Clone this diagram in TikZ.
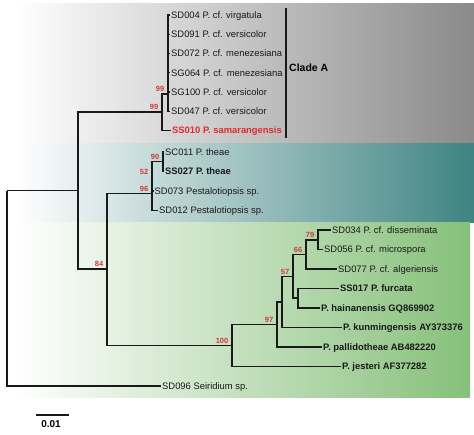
\documentclass[tikz,border=0pt]{standalone}
\usepackage{fontspec}
\setmainfont{Liberation Sans}
\definecolor{bandgray}{HTML}{8A8A8A}
\definecolor{bandteal}{HTML}{3E8482}
\definecolor{bandgreen}{HTML}{86C07A}
\definecolor{bsred}{HTML}{D03A3A}
\definecolor{ssred}{HTML}{E42A30}
\begin{document}
\begin{tikzpicture}[x=1pt,y=-1pt,
  br/.style={line width=1.1pt, black!90},
  leaf/.style={anchor=west, inner sep=1pt, font=\fontsize{9.4}{10}\selectfont, text height=6.7pt, text depth=0pt, text=black!90},
  leafb/.style={leaf, font=\fontsize{9.4}{10}\selectfont\bfseries},
  bs/.style={anchor=south east, inner sep=0pt, xshift=-3.5pt, yshift=2pt, font=\fontsize{7.5}{8}\selectfont\bfseries, text=bsred},
]
\useasboundingbox (0,0) rectangle (474,434);
% background bands
\shade[left color=white, right color=bandgray] (15,3) rectangle (474,143);
\shade[left color=white, right color=bandteal] (15,143) rectangle (474,222);
\shade[left color=white, right color=bandgreen] (15,222) rectangle (470,397);

% internal nodes
\coordinate (root) at (7,190.5);
\coordinate (n78) at (78,190.5);
\coordinate (n162) at (162,112);
\coordinate (n168) at (168,94);
\coordinate (n84) at (107,269);
\coordinate (n96) at (152,193.5);
\coordinate (n52) at (152,176.4);
\coordinate (n90) at (163,161.75);
\coordinate (n100) at (232,345.5);
\coordinate (n97) at (277,324.5);
\coordinate (n282) at (282,302);
\coordinate (n57) at (293,276.5);
\coordinate (nss) at (298,298);
\coordinate (n66) at (306,254.5);
\coordinate (n79) at (318,240);

% leaves
\node[leaf] (sd004) at (170,15) {SD004 P. cf. virgatula};
\node[leaf] (sd091) at (170,34.3) {SD091 P. cf. versicolor};
\node[leaf] (sd072) at (170,53.5) {SD072 P. cf. menezesiana};
\node[leaf] (sg064) at (170,72.8) {SG064 P. cf. menezesiana};
\node[leaf] (sg100) at (170,92) {SG100 P. cf. versicolor};
\node[leaf] (sd047) at (170,111.2) {SD047 P. cf. versicolor};
\node[leafb, text=ssred] (ss010) at (171,130.5) {SS010 P. samarangensis};
\node[leaf] (sc011) at (164,152) {SC011 P. theae};
\node[leafb] (ss027) at (164,171.5) {SS027 P. theae};
\node[leaf] (sd073) at (153.5,191) {SD073 Pestalotiopsis sp.};
\node[leaf] (sd012) at (158,210.5) {SD012 Pestalotiopsis sp.};
\node[leaf] (sd034) at (331,230) {SD034 P. cf. disseminata};
\node[leaf] (sd056) at (323,249.5) {SD056 P. cf. microspora};
\node[leaf] (sd077) at (337,269) {SD077 P. cf. algeriensis};
\node[leafb] (ss017) at (339,288.5) {SS017 P. furcata};
\node[leafb] (hain) at (320,308) {P. hainanensis GQ869902};
\node[leafb] (kunm) at (342,327.5) {P. kunmingensis AY373376};
\node[leafb] (pall) at (322,347) {P. pallidotheae AB482220};
\node[leafb] (jest) at (341,366.5) {P. jesteri AF377282};
\node[leaf] (sd096) at (161,386) {SD096 Seiridium sp.};

% branches
\draw[br] (root) |- (n78);
\draw[br] (root) |- (sd096.west);
\draw[br] (n78) |- (n162);
\draw[br] (n78) |- (n84);
\draw[br] (n162) |- (n168);
\draw[br] (n162) |- (ss010.west);
\foreach \l in {sd004,sd091,sd072,sg064,sg100,sd047}
  \draw[br] (n168) |- (\l.west);
\draw[br] (n84) |- (n96);
\draw[br] (n84) |- (n100);
\draw[br] (n96) |- (n52);
\draw[br] (n96) |- (sd012.west);
\draw[br] (n52) |- (n90);
\draw[br] (n52) |- (sd073.west);
\draw[br] (n90) |- (sc011.west);
\draw[br] (n90) |- (ss027.west);
\draw[br] (n100) |- (n97);
\draw[br] (n100) |- (jest.west);
\draw[br] (n97) |- (n282);
\draw[br] (n97) |- (pall.west);
\draw[br] (n282) |- (n57);
\draw[br] (n282) |- (kunm.west);
\draw[br] (n57) |- (n66);
\draw[br] (n57) |- (nss);
\draw[br] (nss) |- (ss017.west);
\draw[br] (nss) |- (hain.west);
\draw[br] (n66) |- (n79);
\draw[br] (n66) |- (sd077.west);
\draw[br] (n79) |- (sd034.west);
\draw[br] (n79) |- (sd056.west);

% bootstrap values
\node[bs] (b168) at (n168) {99};
\node[bs] (b162) at (n162) {99};
\node[bs] (b90) at (n90) {90};
\node[bs] (b52) at (n52) {52};
\node[bs] (b96) at (n96) {96};
\node[bs] (b84) at (n84) {84};
\node[bs] (b79) at (n79) {79};
\node[bs] (b66) at (n66) {66};
\node[bs] (b57) at (n57) {57};
\node[bs] (b97) at (n97) {97};
\node[bs] (b100) at (n100) {100};

% clade A bar
\coordinate (ctop) at (286,8);
\coordinate (cbot) at (286,138);
\draw[line width=2pt, black!90] (ctop) -- (cbot);
\node[anchor=west, inner sep=0pt, font=\fontsize{10.5}{12}\selectfont\bfseries] (cladeA) at (289,68) {Clade A};

% scale bar
\coordinate (sb1) at (36,415);
\coordinate (sb2) at (69,415);
\draw[line width=1.5pt, black!90] (sb1) -- (sb2);
\node[inner sep=0pt, font=\fontsize{10}{12}\selectfont\bfseries] (sbl) at (51,424.5) {0.01};
\end{tikzpicture}
\end{document}
